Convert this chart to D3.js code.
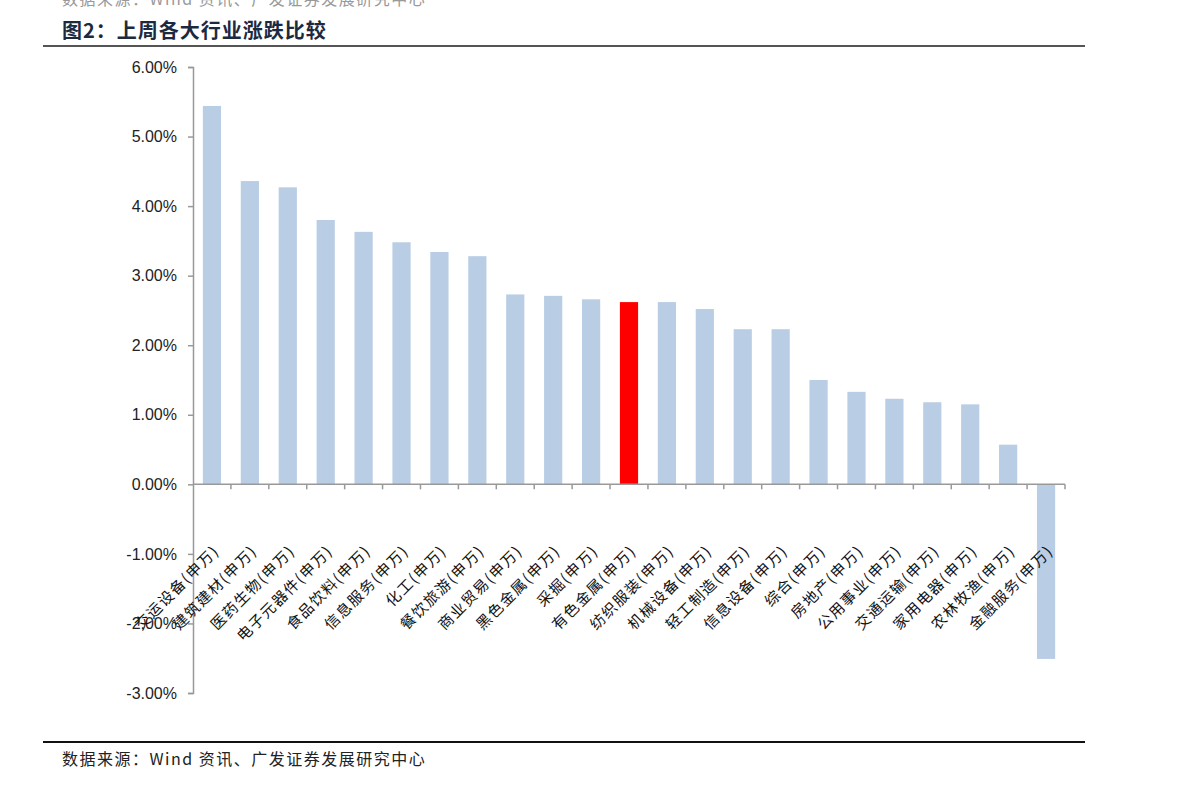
<!DOCTYPE html>
<html>
<head>
<meta charset="utf-8">
<script src="https://cdn.jsdelivr.net/npm/d3@7"></script>
<style>
  body { margin: 0; background: #fff; }
  svg { display: block; }
</style>
</head>
<body>
<script>
const width = 1191;
const height = 790;

const categories = ['交运设备(申万)', '建筑建材(申万)', '医药生物(申万)', '电子元器件(申万)', '食品饮料(申万)',
  '信息服务(申万)', '化工(申万)', '餐饮旅游(申万)', '商业贸易(申万)', '黑色金属(申万)', '采掘(申万)',
  '有色金属(申万)', '纺织服装(申万)', '机械设备(申万)', '轻工制造(申万)', '信息设备(申万)', '综合(申万)',
  '房地产(申万)', '公用事业(申万)', '交通运输(申万)', '家用电器(申万)', '农林牧渔(申万)', '金融服务(申万)'];
const values = [5.44, 4.36, 4.27, 3.80, 3.63, 3.48, 3.34, 3.28, 2.73, 2.71, 2.66,
  2.62, 2.62, 2.52, 2.23, 2.23, 1.50, 1.33, 1.23, 1.18, 1.15, 0.57, -2.51];
const highlight = '有色金属(申万)';
const yTicks = [-3, -2, -1, 0, 1, 2, 3, 4, 5, 6];

const sourceText = '数据来源：Wind 资讯、广发证券发展研究中心';
const titleText = '图2：上周各大行业涨跌比较';

const data = categories.map((c, i) => ({ name: c, value: values[i] }));

let svg = d3.select('body')
            .append('svg')
            .attr('width', width)
            .attr('height', height);

// faded source line cut off at the top (as in the scan)
svg.append('text')
   .attr('x', 62)
   .attr('y', 5)
   .attr('font-family', 'Noto Sans CJK SC')
   .attr('font-size', 16)
   .attr('letter-spacing', 1.5)
   .attr('fill', '#999')
   .text(sourceText);

svg.append('text')
   .attr('x', 62)
   .attr('y', 38)
   .attr('font-family', 'Noto Sans CJK SC')
   .attr('font-size', 20)
   .attr('font-weight', 'bold')
   .attr('letter-spacing', 1)
   .attr('fill', '#1c2a3f')
   .text(titleText);

svg.append('line')
   .attr('x1', 43).attr('x2', 1085)
   .attr('y1', 46).attr('y2', 46)
   .attr('stroke', '#555')
   .attr('stroke-width', 2);

svg.append('line')
   .attr('x1', 43).attr('x2', 1085)
   .attr('y1', 742).attr('y2', 742)
   .attr('stroke', '#111')
   .attr('stroke-width', 2);

svg.append('text')
   .attr('x', 62)
   .attr('y', 765)
   .attr('font-family', 'Noto Sans CJK SC')
   .attr('font-size', 16)
   .attr('letter-spacing', 1.5)
   .attr('fill', '#222')
   .text(sourceText);

const plotLeft = 193, plotRight = 1065, plotTop = 67, plotBottom = 693;

let xScale = d3.scaleBand()
               .domain(categories)
               .range([plotLeft, plotRight])
               .paddingInner(0.52)
               .paddingOuter(0.26);

let yScale = d3.scaleLinear()
               .domain([-3, 6])
               .range([plotBottom, plotTop]);

// bars
svg.selectAll('rect.bar')
   .data(data)
   .enter()
   .append('rect')
   .attr('class', 'bar')
   .attr('x', d => xScale(d.name))
   .attr('width', xScale.bandwidth())
   .attr('y', d => yScale(Math.max(0, d.value)))
   .attr('height', d => Math.abs(yScale(d.value) - yScale(0)))
   .attr('fill', d => d.name === highlight ? '#ff0000' : '#b9cde5');

// y axis
let yAxis = d3.axisLeft(yScale)
              .tickValues(yTicks)
              .tickSize(5)
              .tickFormat(d => d.toFixed(2) + '%');
let gy = svg.append('g')
            .attr('transform', `translate(${plotLeft}, 0)`)
            .call(yAxis);
gy.select('.domain').attr('stroke', '#999').attr('stroke-width', 1.5);
gy.selectAll('.tick line').attr('stroke', '#999').attr('stroke-width', 1.5);
gy.selectAll('.tick text')
  .attr('x', -16)
  .attr('font-family', 'Liberation Sans, Arial, sans-serif')
  .attr('font-size', 16)
  .attr('fill', '#222');

// x axis at zero, ticks between categories
const bounds = d3.range(categories.length + 1).map(i => plotLeft + i * (plotRight - plotLeft) / categories.length);
let gx = svg.append('g');
gx.append('line')
  .attr('x1', plotLeft).attr('x2', plotRight)
  .attr('y1', yScale(0)).attr('y2', yScale(0))
  .attr('stroke', '#999')
  .attr('stroke-width', 1.5);
gx.selectAll('line.tk')
  .data(bounds.slice(1))
  .enter()
  .append('line')
  .attr('class', 'tk')
  .attr('x1', d => d).attr('x2', d => d)
  .attr('y1', yScale(0)).attr('y2', yScale(0) + 5)
  .attr('stroke', '#999')
  .attr('stroke-width', 1.5);

// rotated category labels
svg.selectAll('text.cat')
   .data(data)
   .enter()
   .append('text')
   .attr('class', 'cat')
   .attr('text-anchor', 'end')
   .attr('font-family', 'Noto Sans CJK SC')
   .attr('font-size', 15)
   .attr('letter-spacing', 1.4)
   .attr('fill', '#111')
   .attr('transform', d => `translate(${xScale(d.name) + xScale.bandwidth() / 2 + 8}, 552) rotate(-45)`)
   .text(d => d.name);
</script>
</body>
</html>
